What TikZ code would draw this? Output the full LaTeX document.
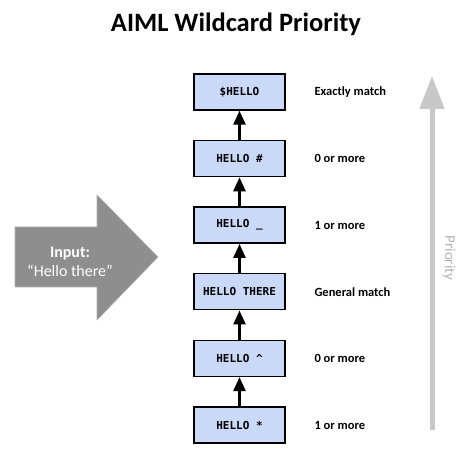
\documentclass[tikz,border=0pt]{standalone}
\usepackage{fontspec}
\setmainfont{Carlito}
\setmonofont{DejaVu Sans Mono}
\usepackage{xcolor}
\usetikzlibrary{arrows.meta}
\usetikzlibrary{positioning}

\definecolor{cardblue}{HTML}{C9D9F7}
\definecolor{inputgray}{HTML}{8E8E8E}
\definecolor{prioritygray}{HTML}{C8C8C8}

\begin{document}
\begin{tikzpicture}[x=1pt,y=1pt,node distance=29.2pt,
    card/.style={draw=black,line width=1.4pt,fill=cardblue,minimum width=91pt,minimum height=36pt,
      inner sep=0pt,font=\ttfamily\bfseries\fontsize{11}{13}\selectfont},
    note/.style={anchor=west,font=\bfseries\fontsize{12.5}{15}\selectfont},
    climb/.style={-{Triangle[width=12pt,length=14pt]},line width=2.6pt}]
  \useasboundingbox (0,0) rectangle (474,455);
  % title
  \node (title) at (236,431) {\bfseries\fontsize{26.5}{31}\selectfont AIML Wildcard Priority};
  % wildcard cards, highest priority on top
  \node[card] (w1) at (239.5,363) {\textdollar HELLO};
  \node[card,below=of w1] (w2) {HELLO \#};
  \node[card,below=of w2] (w3) {HELLO \textunderscore};
  \node[card,below=of w3] (w4) {HELLO THERE};
  \node[card,below=of w4] (w5) {HELLO \textasciicircum};
  \node[card,below=of w5] (w6) {HELLO *};
  % what each one matches
  \node[note] (w1-note) at (311,0 |- w1) {Exactly match};
  \node[note] (w2-note) at (311,0 |- w2) {0 or more};
  \node[note] (w3-note) at (311,0 |- w3) {1 or more};
  \node[note] (w4-note) at (311,0 |- w4) {General match};
  \node[note] (w5-note) at (311,0 |- w5) {0 or more};
  \node[note] (w6-note) at (311,0 |- w6) {1 or more};
  % arrows between cards
  \foreach \lo/\hi in {w6/w5,w5/w4,w4/w3,w3/w2,w2/w1}
    \draw[climb] (\lo.north) -- (\hi.south);
  % input arrow
  \draw[draw=inputgray!70!white,fill=inputgray,line width=0.6pt]
    (15,228) -- (97,228) -- (97,260) -- (158,198) -- (97,135) -- (97,168) -- (15,168) -- cycle;
  \node[text=white,align=center,font=\fontsize{16}{19}\selectfont] (input) at (70,193)
    {\textbf{Input:}\\“Hello there”};
  % priority axis
  \coordinate (pbottom) at (432,25);
  \coordinate (ptop) at (432,379);
  \draw[prioritygray,line width=5pt,-{Triangle[width=24pt,length=33pt]}] (pbottom) -- (ptop);
  \node[rotate=-90,text=prioritygray!90!black,font=\fontsize{15}{17}\selectfont] (plabel) at (449,197) {Priority};
\end{tikzpicture}
\end{document}
